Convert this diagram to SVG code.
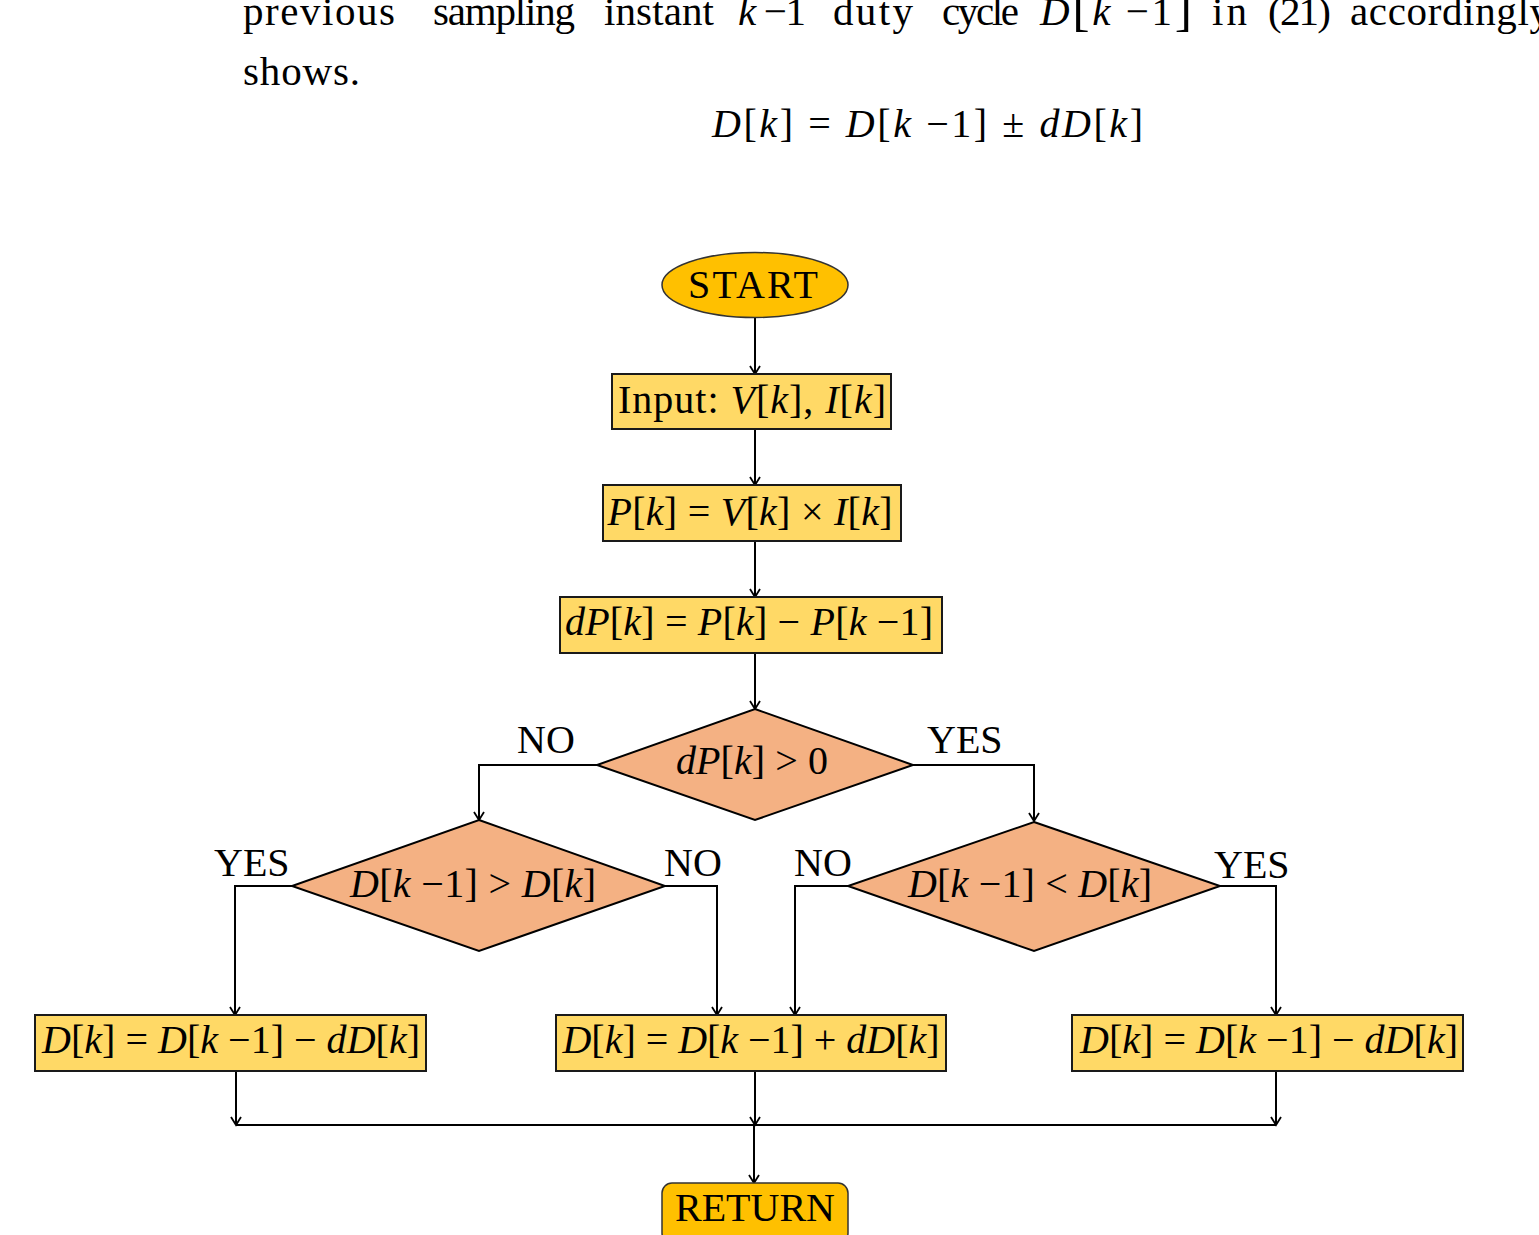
<svg xmlns="http://www.w3.org/2000/svg" width="1539" height="1235" viewBox="0 0 1539 1235">
<style>
.t{font-family:"Liberation Serif","Times New Roman",serif;font-size:40px;fill:#000}
.p{font-family:"Liberation Serif","Times New Roman",serif;font-size:41px;fill:#000}
.i{font-style:italic}
.box{fill:#FFD966;stroke:#1a1a1a;stroke-width:2}
.dia{fill:#F4B183;stroke:#000;stroke-width:2}
.term{fill:#FFC000;stroke:#333;stroke-width:1.5}
.conn{fill:none;stroke:#000;stroke-width:2}
.arr{marker-end:url(#arr)}
</style>
<defs>
<marker id="arr" markerWidth="12" markerHeight="12" refX="10" refY="6" orient="auto" markerUnits="userSpaceOnUse">
<path d="M2,1 L10,6 L2,11" fill="none" stroke="#000" stroke-width="1.8"/>
</marker>
</defs>
<rect width="1539" height="1235" fill="#fff"/>

<g id="paragraph">
<text class="p" x="243" y="25" textLength="152" lengthAdjust="spacing">previous</text>
<text class="p" x="433" y="25" textLength="142" lengthAdjust="spacing">sampling</text>
<text class="p" x="604" y="25" textLength="110" lengthAdjust="spacing">instant</text>
<text class="p" x="738" y="25" textLength="68" lengthAdjust="spacing"><tspan class="i">k</tspan> −1</text>
<text class="p" x="833" y="25" textLength="80" lengthAdjust="spacing">duty</text>
<text class="p" x="942" y="25" textLength="77" lengthAdjust="spacing">cycle</text>
<text class="p" x="1040" y="25" textLength="152" lengthAdjust="spacing"><tspan class="i">D</tspan><tspan font-size="52">[</tspan><tspan class="i">k</tspan> −1<tspan font-size="52">]</tspan></text>
<text class="p" x="1212" y="25" textLength="35" lengthAdjust="spacing">in</text>
<text class="p" x="1268" y="25" textLength="63" lengthAdjust="spacing">(21)</text>
<text class="p" x="1350" y="25" textLength="200" lengthAdjust="spacing">accordingly</text>
<text class="p" x="243" y="85" textLength="117" lengthAdjust="spacing">shows.</text>
<text class="t" x="712" y="137" font-size="42" textLength="431" lengthAdjust="spacing"><tspan class="i">D</tspan>[<tspan class="i">k</tspan>] = <tspan class="i">D</tspan>[<tspan class="i">k</tspan> −1] ± <tspan class="i">dD</tspan>[<tspan class="i">k</tspan>]</text>
</g>

<g id="connectors">
<path class="conn arr" d="M755,317 V374"/>
<path class="conn arr" d="M755,429 V485"/>
<path class="conn arr" d="M755,541 V597"/>
<path class="conn arr" d="M755,653 V709"/>
<path class="conn arr" d="M597,765 H479 V820"/>
<path class="conn arr" d="M913,765 H1034 V821"/>
<path class="conn arr" d="M292,886 H235 V1015"/>
<path class="conn arr" d="M665,886 H717 V1015"/>
<path class="conn arr" d="M848,886 H795 V1015"/>
<path class="conn arr" d="M1220,886 H1276 V1015"/>
<path class="conn arr" d="M236,1071 V1125"/>
<path class="conn arr" d="M755,1071 V1125"/>
<path class="conn arr" d="M1276,1071 V1125"/>
<path class="conn" d="M236,1125 H1276"/>
<path class="conn arr" d="M754,1125 V1183"/>
</g>

<g id="start">
<ellipse class="term" cx="755" cy="285" rx="93" ry="32.5"/>
<text class="t" x="753" y="298" text-anchor="middle" textLength="130" lengthAdjust="spacing">START</text>
</g>

<g id="input">
<rect class="box" x="612" y="374" width="279" height="55"/>
<text class="t" x="752" y="413" text-anchor="middle" textLength="268" lengthAdjust="spacing">Input: <tspan class="i">V</tspan>[<tspan class="i">k</tspan>], <tspan class="i">I</tspan>[<tspan class="i">k</tspan>]</text>
</g>

<g id="power">
<rect class="box" x="603" y="485" width="298" height="56"/>
<text class="t" x="750" y="525" text-anchor="middle" textLength="285" lengthAdjust="spacing"><tspan class="i">P</tspan>[<tspan class="i">k</tspan>] = <tspan class="i">V</tspan>[<tspan class="i">k</tspan>] × <tspan class="i">I</tspan>[<tspan class="i">k</tspan>]</text>
</g>

<g id="dpower">
<rect class="box" x="560" y="597" width="382" height="56"/>
<text class="t" x="749" y="635" text-anchor="middle" textLength="368" lengthAdjust="spacing"><tspan class="i">dP</tspan>[<tspan class="i">k</tspan>] = <tspan class="i">P</tspan>[<tspan class="i">k</tspan>] − <tspan class="i">P</tspan>[<tspan class="i">k</tspan> −1]</text>
</g>

<g id="dec1">
<polygon class="dia" points="755,709 913,765 755,820 597,765"/>
<text class="t" x="752" y="774" text-anchor="middle" textLength="152" lengthAdjust="spacing"><tspan class="i">dP</tspan>[<tspan class="i">k</tspan>] &gt; 0</text>
<text class="t" x="517" y="753">NO</text>
<text class="t" x="927" y="753">YES</text>
</g>

<g id="dec2">
<polygon class="dia" points="479,820 665,886 479,951 292,886"/>
<text class="t" x="473" y="897" text-anchor="middle" textLength="246" lengthAdjust="spacing"><tspan class="i">D</tspan>[<tspan class="i">k</tspan> −1] &gt; <tspan class="i">D</tspan>[<tspan class="i">k</tspan>]</text>
<text class="t" x="214" y="876">YES</text>
<text class="t" x="664" y="876">NO</text>
</g>

<g id="dec3">
<polygon class="dia" points="1034,822 1220,886 1034,951 848,886"/>
<text class="t" x="1030" y="897" text-anchor="middle" textLength="244" lengthAdjust="spacing"><tspan class="i">D</tspan>[<tspan class="i">k</tspan> −1] &lt; <tspan class="i">D</tspan>[<tspan class="i">k</tspan>]</text>
<text class="t" x="794" y="876">NO</text>
<text class="t" x="1214" y="878">YES</text>
</g>

<g id="left-update">
<rect class="box" x="35" y="1015" width="391" height="56"/>
<text class="t" x="231" y="1053" text-anchor="middle" textLength="378" lengthAdjust="spacing"><tspan class="i">D</tspan>[<tspan class="i">k</tspan>] = <tspan class="i">D</tspan>[<tspan class="i">k</tspan> −1] − <tspan class="i">dD</tspan>[<tspan class="i">k</tspan>]</text>
</g>

<g id="mid-update">
<rect class="box" x="556" y="1015" width="390" height="56"/>
<text class="t" x="751" y="1053" text-anchor="middle" textLength="377" lengthAdjust="spacing"><tspan class="i">D</tspan>[<tspan class="i">k</tspan>] = <tspan class="i">D</tspan>[<tspan class="i">k</tspan> −1] + <tspan class="i">dD</tspan>[<tspan class="i">k</tspan>]</text>
</g>

<g id="right-update">
<rect class="box" x="1072" y="1015" width="391" height="56"/>
<text class="t" x="1269" y="1053" text-anchor="middle" textLength="378" lengthAdjust="spacing"><tspan class="i">D</tspan>[<tspan class="i">k</tspan>] = <tspan class="i">D</tspan>[<tspan class="i">k</tspan> −1] − <tspan class="i">dD</tspan>[<tspan class="i">k</tspan>]</text>
</g>

<g id="return">
<rect class="term" x="662" y="1183" width="186" height="60" rx="10"/>
<text class="t" x="755" y="1221" text-anchor="middle" textLength="160" lengthAdjust="spacing">RETURN</text>
</g>
</svg>
